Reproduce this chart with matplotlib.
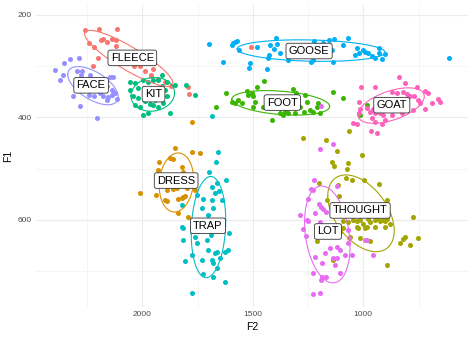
import numpy as np
import matplotlib.pyplot as plt
from matplotlib.ticker import MultipleLocator

# ----- vowel formant data (Hz) -----
vowels = ["FLEECE", "DRESS", "THOUGHT", "FOOT", "KIT", "TRAP", "GOOSE", "FACE", "LOT", "GOAT"]
colors = ["#F8766D", "#D89000", "#A3A500", "#39B600", "#00BF7D",
          "#00BFC4", "#00B0F6", "#9590FF", "#E76BF3", "#FF62BC"]

fleece_f2 = [2260, 2196, 2114, 2242, 2218, 2188, 2180, 2159, 2140, 2120, 2119, 2200, 2223, 1793, 1788, 1509,
             2110, 2070, 2040, 1990, 1960, 1930, 1950, 2010, 1900, 1870, 1960]
fleece_f1 = [229, 228, 227, 255, 262, 249, 247, 252, 247, 249, 261, 284, 299, 340, 355, 262,
             280, 288, 300, 310, 320, 325, 305, 300, 330, 338, 318]

dress_f2 = [1853, 1875, 1860, 1924, 1822, 1928, 1890, 1860, 1845, 1939, 1898, 2011, 1838, 1815, 1777, 1777,
            1740, 1815, 1807, 1822, 1762, 1797, 1890, 1838, 1793, 1875, 1830]
dress_f1 = [460, 480, 482, 486, 496, 502, 541, 540, 538, 551, 561, 547, 560, 556, 408, 467,
            470, 506, 554, 558, 541, 538, 564, 587, 594, 522, 518]

thought_f2 = [1143, 1131, 1068, 1072, 1199, 1113, 1052, 997, 927, 1108, 1163, 1136, 894, 1090, 1068, 1045,
              1030, 1015, 1000, 969, 977, 947, 936, 924, 901, 894, 912, 1030, 1023, 984, 947, 901, 879,
              1060, 1015, 969, 1105, 1151, 1120, 1211, 1136, 833, 819, 811, 788, 751, 773, 894, 992,
              1090, 1063, 1169, 1118, 1007, 1078, 1272, 1080, 1040, 1000, 1060, 1020]
thought_f1 = [486, 495, 489, 501, 527, 532, 523, 523, 530, 554, 562, 569, 561, 603, 605, 600,
              603, 600, 608, 605, 599, 601, 597, 603, 602, 599, 600, 613, 616, 613, 614, 614, 608,
              633, 636, 642, 623, 631, 629, 642, 678, 645, 638, 634, 649, 636, 595, 688, 616,
              616, 426, 444, 465, 473, 519, 441, 590, 585, 590, 575, 580]

foot_f2 = [1622, 1667, 1596, 1581, 1566, 1551, 1528, 1521, 1505, 1498, 1490, 1483, 1450, 1498, 1453, 1435,
           1415, 1377, 1354, 1340, 1317, 1305, 1320, 1287, 1264, 1256, 1241, 1226, 1211, 1196, 1204, 1138,
           1362, 1309, 1268, 1092, 1015, 983, 1380, 1340, 1400]
foot_f1 = [352, 379, 369, 372, 366, 372, 348, 356, 353, 359, 369, 341, 329, 379, 379, 372,
           405, 392, 389, 392, 345, 353, 369, 379, 356, 369, 385, 389, 379, 392, 372, 350,
           395, 392, 389, 362, 395, 376, 360, 362, 368]

kit_f2 = [2057, 2034, 1996, 1974, 1951, 1928, 1913, 1890, 1853, 2057, 2042, 1898, 1890, 2034, 2011, 1996,
          1974, 1951, 1928, 1906, 1876, 1989, 1966, 1943, 2020, 1921, 2020, 1912, 1803, 1762]
kit_f1 = [330, 333, 327, 330, 327, 327, 317, 330, 337, 346, 359, 346, 359, 376, 379, 395,
          392, 376, 379, 372, 391, 368, 374, 366, 362, 362, 342, 339, 337, 356]

trap_f2 = [1687, 1657, 1667, 1697, 1622, 1664, 1687, 1652, 1672, 1754, 1727, 1685, 1641, 1732, 1679, 1702,
           1818, 1818, 1762, 1754, 1777, 1732, 1702, 1687, 1672, 1664, 1649, 1626, 1611, 1607, 1807, 1725,
           1679, 1664, 1626, 1777, 1679, 1822, 1822, 1700, 1720, 1680, 1740, 1690, 1710]
trap_f1 = [397, 467, 486, 506, 522, 528, 536, 543, 547, 551, 560, 561, 561, 577, 577, 590,
           616, 639, 633, 645, 668, 678, 658, 679, 665, 662, 675, 662, 658, 626, 681, 705,
           712, 694, 722, 742, 684, 571, 613, 610, 620, 615, 605, 630, 640]

goose_f2 = [1697, 1596, 1589, 1581, 1573, 1561, 1634, 1513, 1516, 1435, 1483, 1422, 1395, 1389, 1404, 1377,
            1426, 1430, 1340, 1332, 1294, 1283, 1264, 1249, 1237, 1226, 1222, 1211, 1181, 1154, 1133, 1143,
            1138, 1196, 1068, 1090, 1030, 1018, 1002, 992, 977, 962, 947, 927, 927, 916, 901, 1037, 610]
goose_f1 = [257, 259, 255, 252, 250, 268, 292, 294, 304, 306, 262, 259, 244, 257, 267, 274,
            278, 284, 288, 262, 278, 262, 278, 259, 291, 288, 250, 259, 255, 249, 247, 268,
            291, 275, 244, 259, 265, 275, 268, 272, 275, 281, 284, 265, 275, 286, 276, 278, 283]

face_f2 = [2396, 2357, 2327, 2288, 2374, 2360, 2298, 2280, 2274, 2238, 2316, 2241, 2220, 2193, 2179, 2162,
           2155, 2140, 2125, 2114, 2134, 2147, 2283, 2207, 2247, 2193, 2161, 2138, 2230, 2200]
face_f1 = [307, 294, 286, 284, 327, 317, 309, 317, 309, 317, 359, 356, 359, 353, 359, 366,
           361, 356, 353, 364, 321, 321, 378, 402, 337, 342, 339, 346, 335, 345]

lot_f2 = [1223, 1238, 1226, 1249, 1199, 1193, 1181, 1169, 1219, 1287, 1256, 1249, 1272, 1259, 1196, 1068,
          1063, 1068, 1120, 1105, 1151, 1219, 1173, 1136, 1128, 1188, 1083, 1120, 1052, 1226, 1188, 1169,
          1193, 1105, 1226, 1196, 984, 992, 955, 1136, 1196, 1120, 1193, 1150, 1130, 1170, 1110]
lot_f1 = [523, 540, 541, 560, 569, 574, 579, 584, 587, 590, 600, 603, 618, 631, 605, 619,
          636, 645, 652, 658, 655, 672, 665, 675, 688, 684, 668, 675, 668, 704, 711, 712,
          718, 704, 744, 742, 639, 640, 668, 452, 462, 534, 378, 620, 625, 630, 615]

goat_f2 = [1012, 947, 837, 811, 755, 720, 705, 871, 848, 821, 803, 788, 770, 751, 743, 690,
           660, 652, 776, 720, 1018, 1015, 1018, 984, 969, 954, 947, 932, 924, 909, 901, 916,
           947, 962, 1045, 1027, 966, 939, 871, 826, 900, 870, 930, 890, 860]
goat_f1 = [340, 340, 322, 332, 341, 348, 353, 350, 353, 350, 354, 359, 359, 366, 371, 372,
           364, 369, 385, 384, 369, 384, 392, 382, 389, 384, 392, 387, 391, 395, 405, 413,
           408, 402, 410, 413, 426, 430, 395, 392, 370, 372, 375, 365, 368]

f2_data = [fleece_f2, dress_f2, thought_f2, foot_f2, kit_f2, trap_f2, goose_f2, face_f2, lot_f2, goat_f2]
f1_data = [fleece_f1, dress_f1, thought_f1, foot_f1, kit_f1, trap_f1, goose_f1, face_f1, lot_f1, goat_f1]


def cov_trob(x, nu=5, maxit=25, tol=0.01):
    # robust t-distribution covariance, like MASS::cov.trob
    n, p = x.shape
    w = np.ones(n)
    loc = x.mean(axis=0)
    for _ in range(maxit):
        w0 = w
        X = x - loc
        sw = np.sqrt(w / w.sum())
        _, d, vt = np.linalg.svd(sw[:, None] * X, full_matrices=False)
        wX = X @ vt.T / d
        Q = (wX ** 2).sum(axis=1)
        w = (nu + p) / (nu + Q)
        loc = (w[:, None] * x).sum(axis=0) / w.sum()
        if np.all(np.abs(w - w0) < tol):
            break
    sX = np.sqrt(w)[:, None] * X
    return loc, sX.T @ sX / n


def ellipse_path(f2, f1, level=0.68, segments=51):
    x = np.column_stack([f2, f1]).astype(float)
    loc, shape = cov_trob(x)
    m = len(f2) - 1
    fq = (m / 2) * ((1 - level) ** (-2 / m) - 1)  # qf(level, 2, m)
    radius = np.sqrt(2 * fq)
    ang = np.linspace(0, 2 * np.pi, segments)
    circle = np.column_stack([np.cos(ang), np.sin(ang)])
    chol = np.linalg.cholesky(shape).T
    pts = loc + radius * circle @ chol
    return pts[:, 0], pts[:, 1]


plt.rcParams['font.family'] = ['Liberation Sans', 'DejaVu Sans']

fig = plt.figure(figsize=(4.74, 3.38), dpi=100)
ax = fig.add_axes([36 / 474, 1 - 307 / 338, 432 / 474, 302 / 338])

for f2, f1, col in zip(f2_data, f1_data, colors):
    ax.scatter(f2, f1, s=13, color=col, linewidths=0, zorder=3)

for f2, f1, col in zip(f2_data, f1_data, colors):
    ex, ey = ellipse_path(f2, f1)
    ax.plot(ex, ey, color=col, lw=0.8, zorder=4)

for name, f2, f1 in zip(vowels, f2_data, f1_data):
    ax.text(np.mean(f2), np.mean(f1), name, ha='center', va='center', fontsize=8, zorder=6,
            bbox=dict(boxstyle='round,pad=0.25,rounding_size=0.2', fc='white', ec='#333333', lw=0.6))

ax.set_xlim(2482, 526)
ax.set_ylim(770, 180.5)
ax.set_xticks([2000, 1500, 1000])
ax.set_yticks([200, 400, 600])
ax.xaxis.set_minor_locator(MultipleLocator(250))
ax.yaxis.set_minor_locator(MultipleLocator(100))
ax.grid(which='major', color='#EBEBEB', lw=0.8)
ax.grid(which='minor', color='#F2F2F2', lw=0.5)
ax.set_axisbelow(True)
for s in ax.spines.values():
    s.set_visible(False)
ax.tick_params(which='both', length=0, labelsize=6, labelcolor='#4D4D4D', pad=3)
ax.set_xlabel('F2', fontsize=7.5, labelpad=3)
ax.set_ylabel('F1', fontsize=7.5, labelpad=3)

fig.savefig('out.png', dpi=100)
